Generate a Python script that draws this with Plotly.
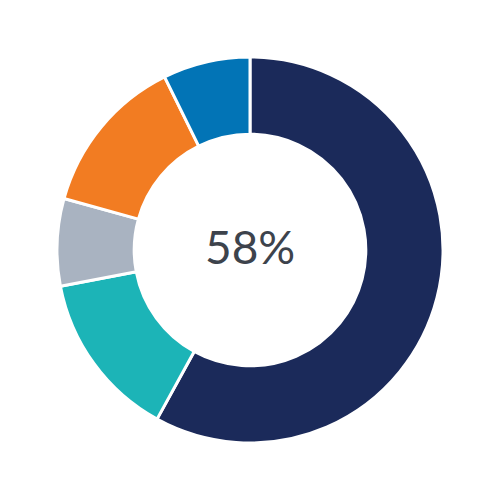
import plotly.graph_objects as go

#---------------
labels = ["A", "B", "C", "D", "E"]
values = [58, 14, 7.3, 13.4, 7.3]
colors = ["#1b2a5a", "#1cb4b7", "#a9b3c1", "#f27c22", "#0274b6"]
center_text = "58%"

fig = go.Figure(go.Pie(
  labels=labels, values=values, hole=0.6, sort=False,
  direction="clockwise", rotation=0,
  marker=dict(colors=colors, line=dict(color="white", width=3)),
  textinfo="none", hoverinfo="label+percent",
))
fig.add_annotation(text=center_text, x=0.5, y=0.5, xref="paper", yref="paper",
                   showarrow=False, yshift=4,
                   font=dict(family="Lato", size=46, color="#3d434c"))
# page has an 8px offset, so margins are shifted to keep the ring centered
fig.update_layout(width=500, height=500, showlegend=False,
                  margin=dict(l=49, r=65, t=49, b=65),
                  paper_bgcolor="white", plot_bgcolor="white")
fig.write_html("out.html")
